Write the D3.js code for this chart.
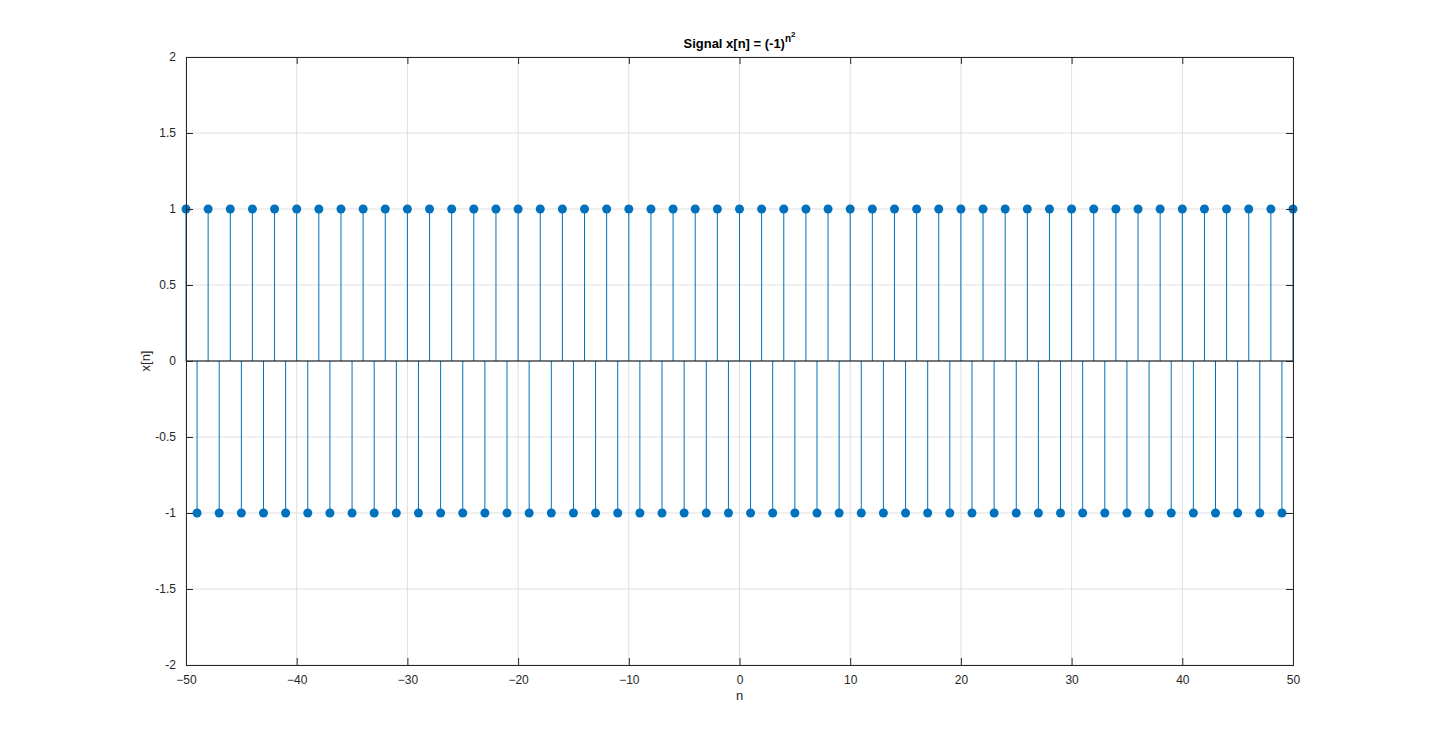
<!DOCTYPE html><html><head><meta charset="utf-8"><script src="https://d3js.org/d3.v7.min.js"></script>
<style>body{margin:0;background:#fff}text{font-family:Arial,"Liberation Sans",sans-serif}</style></head><body>
<svg id="c" width="1429" height="747"></svg>
<script>
const nValues = d3.range(-50, 51);
const xValues = nValues.map(n => (n % 2 === 0) ? 1 : -1);
const xTicks = [-50,-40,-30,-20,-10,0,10,20,30,40,50];
const yTicks = [-2,-1.5,-1,-0.5,0,0.5,1,1.5,2];
const svg = d3.select("#c");
const L=186,R=1293,T=57,B=665;
const x = d3.scaleLinear().domain([-50,50]).range([L,R]);
const y = d3.scaleLinear().domain([-2,2]).range([B,T]);
svg.append("rect").attr("x",L).attr("y",T).attr("width",R-L).attr("height",B-T).attr("fill","#fff");
const g = svg.append("g");
g.selectAll(".gx").data(xTicks).join("line").attr("x1",d=>x(d)).attr("x2",d=>x(d)).attr("y1",T).attr("y2",B).attr("stroke","#dfdfdf");
g.selectAll(".gy").data(yTicks).join("line").attr("y1",d=>y(d)).attr("y2",d=>y(d)).attr("x1",L).attr("x2",R).attr("stroke","#dfdfdf");
const data = nValues.map((n,i)=>({n,v:xValues[i]}));
g.selectAll(".st").data(data).join("line").attr("x1",d=>x(d.n)).attr("x2",d=>x(d.n)).attr("y1",y(0)).attr("y2",d=>y(d.v)).attr("stroke","#0072BD").attr("stroke-width",1);
g.append("line").attr("x1",L).attr("x2",R).attr("y1",y(0)).attr("y2",y(0)).attr("stroke","#000");
g.selectAll(".pt").data(data).join("circle").attr("cx",d=>x(d.n)).attr("cy",d=>y(d.v)).attr("r",4.5).attr("fill","#0072BD");
const ax = svg.append("g").attr("transform",`translate(0,${B})`).call(d3.axisBottom(x).tickValues(xTicks).tickSize(-7).tickPadding(10));
const ax2 = svg.append("g").attr("transform",`translate(0,${T})`).call(d3.axisTop(x).tickValues(xTicks).tickSize(-7).tickFormat(""));
const ay = svg.append("g").attr("transform",`translate(${L},0)`).call(d3.axisLeft(y).tickValues(yTicks).tickSize(-7).tickPadding(10).tickFormat(d=>d));
const ay2 = svg.append("g").attr("transform",`translate(${R},0)`).call(d3.axisRight(y).tickValues(yTicks).tickSize(-7).tickFormat(""));
[ax,ax2,ay,ay2].forEach(a=>{a.selectAll("path,line").attr("stroke","#262626");a.selectAll("text").attr("fill","#262626").style("font-size","12px");});
svg.append("text").attr("x",(L+R)/2).attr("y",700).attr("text-anchor","middle").style("font-size","13px").attr("fill","#262626").text("n");
svg.append("text").attr("transform",`translate(150,${y(0)}) rotate(-90)`).attr("text-anchor","middle").style("font-size","13px").attr("fill","#262626").text("x[n]");
const t = svg.append("text").attr("x",(L+R)/2).attr("y",48).attr("text-anchor","middle").style("font-size","13px").style("font-weight","bold").attr("fill","#000");
t.append("tspan").text("Signal x[n] = (-1)");
t.append("tspan").attr("dy",-6).style("font-size","10px").text("n");
t.append("tspan").attr("dy",-5).style("font-size","8px").text("2");
</script></body></html>
